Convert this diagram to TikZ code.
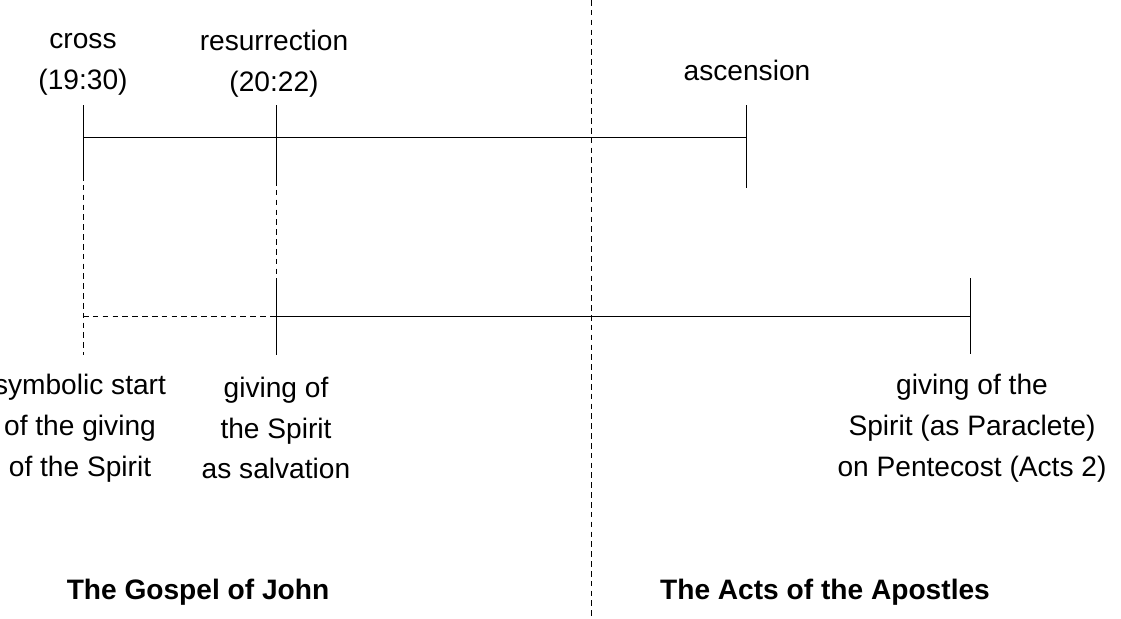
\documentclass[tikz,border=0pt]{standalone}
\usepackage{fontspec}
\setmainfont{Liberation Sans}
\usetikzlibrary{positioning}

\begin{document}
\begin{tikzpicture}[x=0.025cm, y=-0.025cm,
    label/.style={align=center, font=\fontsize{20}{29}\selectfont, inner sep=0pt},
    title/.style={font=\fontsize{20}{24}\selectfont\bfseries, inner sep=0pt},
    line/.style={black, line width=0.6pt},
    dline/.style={black, line width=0.6pt, dash pattern=on 4pt off 3pt}
]
\useasboundingbox (0,0) rectangle (1121,619);

% divider between the two books
\coordinate (divtop) at (591,0);
\coordinate (divbot) at (591,619);
\draw[dline] (divtop) -- (divbot);

% upper time line
\coordinate (crossA) at (83,105);
\coordinate (crossB) at (83,175);
\coordinate (crossC) at (83,355);
\coordinate (resA) at (276,105);
\coordinate (resB) at (276,180);
\coordinate (resC) at (276,278);
\coordinate (resD) at (276,355);
\coordinate (ascA) at (746,105);
\coordinate (ascB) at (746,188);
\coordinate (topL) at (83,137);
\coordinate (topR) at (746,137);
\draw[line] (topL) -- (topR);
\draw[line] (crossA) -- (crossB);
\draw[dline] (crossB) -- (crossC);
\draw[line] (resA) -- (resB);
\draw[dline] (resB) -- (resC);
\draw[line] (resC) -- (resD);
\draw[line] (ascA) -- (ascB);

% lower time line
\coordinate (botL) at (83,316);
\coordinate (botM) at (276,316);
\coordinate (botR) at (970,316);
\coordinate (pentA) at (970,278);
\coordinate (pentB) at (970,354);
\draw[dline] (botL) -- (botM);
\draw[line] (botM) -- (botR);
\draw[line] (pentA) -- (pentB);

% labels
\node[label] (cross) at (83,64) {cross\\(19:30)};
\node[label] (resurrection) at (274,64) {resurrection\\(20:22)};
\node[label] (ascension) at (747,70) {ascension};
\node[label] (symbolic) at (80,428) {symbolic start\\of the giving\\of the Spirit};
\node[label] (salvation) at (276,428) {giving of\\the Spirit\\as salvation};
\node[label] (pentecost) at (972,428) {giving of the\\Spirit (as Paraclete)\\on Pentecost (Acts 2)};
\node[title] (john) at (198,592) {The Gospel of John};
\node[title] (acts) at (825,592) {The Acts of the Apostles};
\end{tikzpicture}
\end{document}
